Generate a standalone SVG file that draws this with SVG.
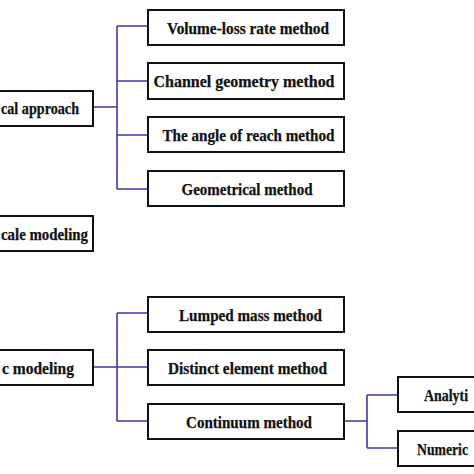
<svg xmlns="http://www.w3.org/2000/svg" width="474" height="474" viewBox="0 0 474 474">
<style>
.box{fill:#fff;stroke:#111;stroke-width:2}
text{font-family:'Liberation Serif','DejaVu Serif',serif;font-weight:700;font-size:16px;fill:#111;stroke:#111;stroke-width:0.25}
.c{text-anchor:middle}
.conn{fill:none;stroke:#3a3aa8;stroke-width:1.6}
</style>
<rect width="474" height="474" fill="#fff"/>
<g id="connectors">
<path class="conn" d="M93 107H117M117 26V189M117 26H148M117 81H148M117 135H148M117 189H148"/>
<path class="conn" d="M93 367H117M117 313V421M117 313H148M117 367H148M117 421H148"/>
<path class="conn" d="M344 421H367M367 395V448M367 395H398M367 448H398"/>
</g>
<g font-family="Liberation Serif, serif">
<g id="empirical"><rect class="box" x="-10" y="91" width="103" height="35"/><text x="1" y="114" textLength="78" lengthAdjust="spacingAndGlyphs">cal approach</text></g>
<g id="volume"><rect class="box" x="148" y="10" width="196" height="35"/><text class="c" x="248" y="33.5" textLength="162" lengthAdjust="spacingAndGlyphs">Volume-loss rate method</text></g>
<g id="channel"><rect class="box" x="148" y="63" width="196" height="36"/><text class="c" x="244" y="87" textLength="181" lengthAdjust="spacingAndGlyphs">Channel geometry method</text></g>
<g id="angle"><rect class="box" x="148" y="117" width="196" height="35"/><text class="c" x="248.5" y="141" textLength="172" lengthAdjust="spacingAndGlyphs">The angle of reach method</text></g>
<g id="geometrical"><rect class="box" x="148" y="171" width="196" height="35"/><text class="c" x="247" y="195" textLength="131" lengthAdjust="spacingAndGlyphs">Geometrical method</text></g>
<g id="scale"><rect class="box" x="-10" y="216" width="103" height="35"/><text x="1" y="240" textLength="87" lengthAdjust="spacingAndGlyphs">cale modeling</text></g>
<g id="dynamic"><rect class="box" x="-10" y="350" width="103" height="35"/><text x="2" y="373.5" textLength="72" lengthAdjust="spacingAndGlyphs">c modeling</text></g>
<g id="lumped"><rect class="box" x="148" y="297" width="196" height="35"/><text class="c" x="250.5" y="321" textLength="143" lengthAdjust="spacingAndGlyphs">Lumped mass method</text></g>
<g id="distinct"><rect class="box" x="148" y="350" width="196" height="35"/><text class="c" x="247.5" y="374" textLength="159" lengthAdjust="spacingAndGlyphs">Distinct element method</text></g>
<g id="continuum"><rect class="box" x="148" y="404" width="196" height="35"/><text class="c" x="249" y="428" textLength="126" lengthAdjust="spacingAndGlyphs">Continuum method</text></g>
<g id="analytical"><rect class="box" x="398" y="377" width="90" height="35"/><text x="424" y="400.5" textLength="44" lengthAdjust="spacingAndGlyphs">Analyti</text></g>
<g id="numerical"><rect class="box" x="398" y="431" width="90" height="35"/><text x="417" y="454.5" textLength="51" lengthAdjust="spacingAndGlyphs">Numeric</text></g>
</g>
</svg>
